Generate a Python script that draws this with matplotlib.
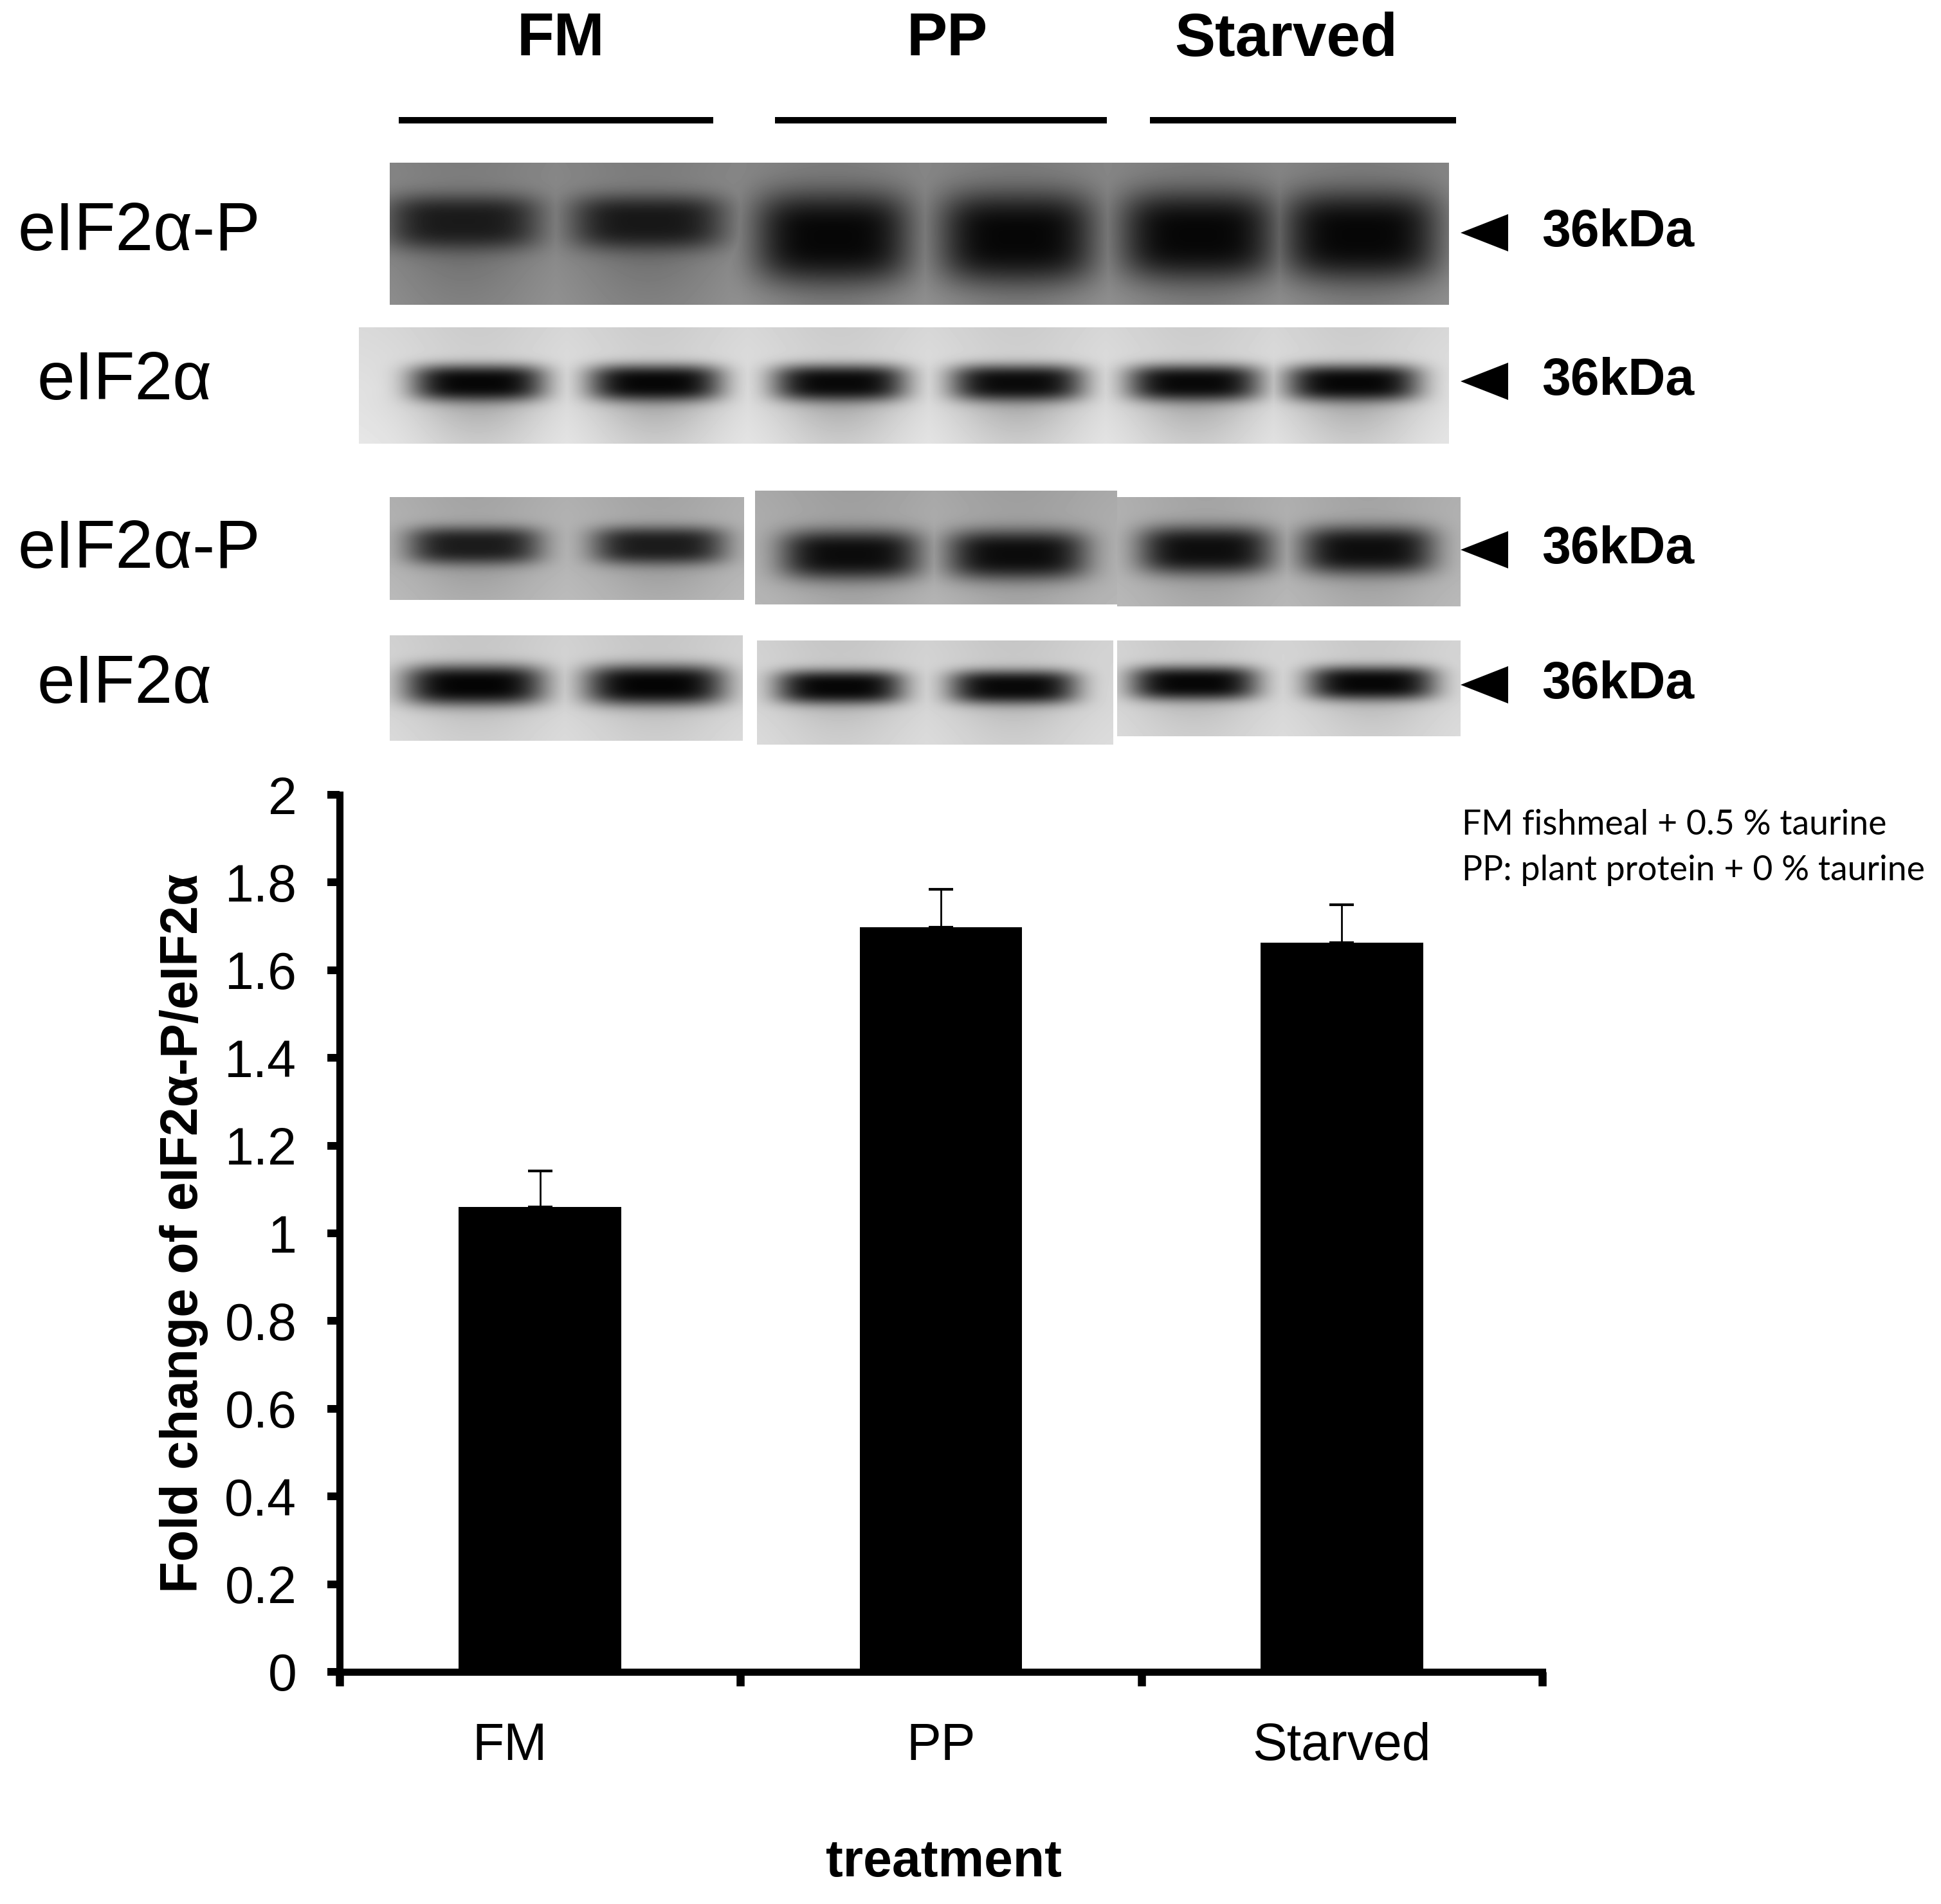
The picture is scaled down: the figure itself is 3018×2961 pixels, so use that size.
import numpy as np
import matplotlib
matplotlib.use("Agg")
import matplotlib.pyplot as plt
import matplotlib.transforms as mtransforms
from matplotlib.ticker import FixedLocator

plt.rcParams['font.family'] = ['Liberation Sans', 'DejaVu Sans']

# bar chart data
treatments = ['FM', 'PP', 'Starved']
fold_change = [1.060, 1.698, 1.663]
fold_err = [0.082, 0.087, 0.086]
yticks = [0, 0.2, 0.4, 0.6, 0.8, 1.0, 1.2, 1.4, 1.6, 1.8, 2.0]
ytick_labels = ['0', '0.2', '0.4', '0.6', '0.8', '1', '1.2', '1.4', '1.6', '1.8', '2']

# blot band darkness per lane (FM, FM, PP, PP, Starved, Starved)
row_names = ['eIF2\u03b1-P', 'eIF2\u03b1', 'eIF2\u03b1-P', 'eIF2\u03b1']
band_p1 = [0.80, 0.82, 0.95, 0.95, 0.95, 0.95]
band_t1 = [0.97, 0.97, 0.96, 0.95, 0.96, 0.97]
band_p2 = [0.84, 0.84, 0.93, 0.93, 0.92, 0.92]
band_t2 = [0.98, 0.98, 0.97, 0.96, 0.97, 0.97]
marker_label = '36kDa'
note_lines = ['FM fishmeal + 0.5 % taurine', 'PP: plant protein + 0 % taurine']

W, H = 3018, 2961
fig = plt.figure(figsize=(W / 200, H / 200), dpi=200)

# overlay in pixel coordinates for the blot panel
ov = fig.add_axes([0, 0, 1, 1])
ov.set_xlim(0, W)
ov.set_ylim(H, 0)
ov.axis('off')


def blot(x0, x1, y0, y1, bg_top, bg_bot, lanes, dens, band_y, half_h, half_w, tail):
    xs = np.arange(x0, x1) + 0.5
    ys = np.arange(y0, y1) + 0.5
    X, Y = np.meshgrid(xs, ys)
    bg = bg_top + (bg_bot - bg_top) * (Y - y0) / (y1 - y0)
    dark = np.zeros_like(X)
    shade = np.zeros_like(X)
    for cx, d, by, hh in zip(lanes, dens, band_y, half_h):
        fx = np.exp(-np.abs((X - cx) / half_w) ** 4)
        shade = np.maximum(shade, np.exp(-((X - cx) / (half_w * 1.1)) ** 2))
        dy = Y - by
        core = np.exp(-np.abs(dy / hh) ** 3)
        smear = 0.4 * np.exp(-np.clip(dy, 0, None) / tail) * (dy > 0) \
            * np.exp(-np.abs((X - cx) / (half_w * 0.9)) ** 2)
        dark = np.maximum(dark, d * fx * core + smear * d * (1 - core))
    img = (bg - 14 * shade) * (1 - np.clip(dark, 0, 1))
    ov.imshow(img, cmap='gray', vmin=0, vmax=255, extent=(x0, x1, y1, y0),
              interpolation='bilinear', aspect='auto')


# row 1: eIF2a-P
blot(606, 2253, 253, 474, 138, 150, [721, 1008, 1295, 1582, 1863, 2116], band_p1,
     [345, 345, 368, 368, 365, 365], [42, 42, 70, 70, 68, 68], 122, 70)
# row 2: eIF2a
blot(558, 2253, 509, 690, 218, 232, [744, 1019, 1306, 1582, 1857, 2104], band_t1,
     [595] * 6, [28] * 6, 105, 55)
# row 3: eIF2a-P (three pieces)
blot(606, 1157, 773, 933, 178, 190, [738, 1025], band_p2[0:2], [848, 848], [29, 29], 105, 30)
blot(1174, 1737, 763, 940, 172, 185, [1323, 1582], band_p2[2:4], [862, 862], [38, 38], 110, 30)
blot(1737, 2271, 773, 943, 178, 188, [1875, 2127], band_p2[4:6], [855, 855], [37, 37], 105, 30)
# row 4: eIF2a (three pieces)
blot(606, 1155, 988, 1152, 212, 222, [738, 1019], band_t2[0:2], [1065, 1065], [31, 31], 110, 25)
blot(1177, 1731, 996, 1158, 212, 222, [1306, 1576], band_t2[2:4], [1068, 1068], [26, 26], 100, 25)
blot(1737, 2271, 996, 1145, 214, 222, [1857, 2133], band_t2[4:6], [1062, 1062], [26, 26], 100, 25)

ov.set_xlim(0, W)
ov.set_ylim(H, 0)

# group headers and lines
for name, cx, x0, x1 in zip(treatments, [872, 1473, 2000], [620, 1205, 1788], [1109, 1721, 2264]):
    ov.text(cx, 62, name, ha='center', va='center', fontsize=34, fontweight='bold')
    ov.plot([x0, x1], [187, 187], color='black', lw=3.6, solid_capstyle='butt')

# row labels, arrows, size marker
row_y = [362, 593, 855, 1065]
row_x = [27, 58, 27, 58]
for name, ry, rx in zip(row_names, row_y, row_x):
    ov.text(rx, ry, name, ha='left', va='center', fontsize=38)
    ov.fill([2271, 2345, 2345], [ry, ry - 29, ry + 29], color='black', lw=0)
    ov.text(2397, ry, marker_label, ha='left', va='center', fontsize=29, fontweight='bold')

# note text
for i, line in enumerate(note_lines):
    ov.text(2273, 1283 + i * 70, line, ha='left', va='center', fontsize=19.3,
            family=['Lato', 'DejaVu Sans'])

# x axis title
ov.text(1467, 2897, 'treatment', ha='center', va='center', fontsize=29, fontweight='bold')

# bar chart
ax = fig.add_axes([528 / W, 1 - 2600 / H, 1870 / W, 1364 / H])
ax.patch.set_alpha(0)
xpos = np.arange(len(treatments))
ax.bar(xpos, fold_change, width=0.405, color='black',
       yerr=[np.zeros(len(fold_err)), fold_err], capsize=6.8,
       error_kw=dict(elinewidth=1.0, capthick=1.5, ecolor='black'))
ax.set_xlim(-0.5, 2.5)
ax.set_ylim(0, 2)
ax.set_yticks(yticks)
ax.set_yticklabels(ytick_labels)
ax.set_xticks(xpos)
ax.set_xticklabels(treatments)
ax.xaxis.set_minor_locator(FixedLocator([-0.5, 0.5, 1.5, 2.5]))
ax.tick_params(axis='x', which='major', length=0, pad=28, labelsize=29)
ax.tick_params(axis='x', which='minor', length=8, width=4.5, direction='out')
ax.tick_params(axis='y', length=7, width=4.3, direction='out', pad=17, labelsize=29)
for s in ['top', 'right']:
    ax.spines[s].set_visible(False)
for s in ['left', 'bottom']:
    ax.spines[s].set_linewidth(4)
ax.set_ylabel('Fold change of eIF2\u03b1-P/eIF2\u03b1', fontsize=29, fontweight='bold', labelpad=9)

# the FM label sits a little left of its bar in the original
fm_label = ax.get_xticklabels()[0]
fm_label.set_transform(fm_label.get_transform() +
                       mtransforms.ScaledTranslation(-47 / 200, 0, fig.dpi_scale_trans))

fig.savefig('out.png', dpi=200)
